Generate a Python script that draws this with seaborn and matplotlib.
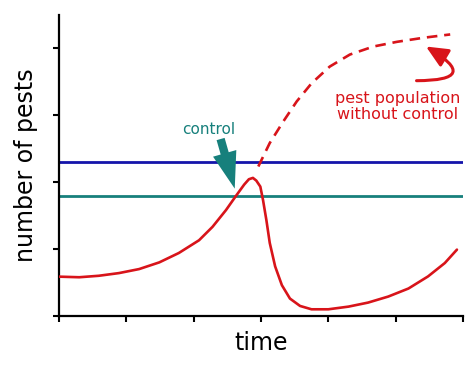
import matplotlib
matplotlib.use("Agg")
import matplotlib.pyplot as plt
import seaborn as sns
import pandas as pd

# pest population with control (red solid)
time_ctrl = [0.00, 0.30, 0.59, 0.89, 1.19, 1.49, 1.78, 2.08, 2.28, 2.48, 2.62, 2.75,
             2.82, 2.88, 2.93, 2.99, 3.03, 3.08, 3.13, 3.21, 3.31, 3.43, 3.58, 3.75,
             4.00, 4.30, 4.59, 4.89, 5.19, 5.48, 5.73, 5.91]
pests_ctrl = [0.587, 0.578, 0.60, 0.64, 0.70, 0.80, 0.94, 1.13, 1.33, 1.58, 1.78, 1.96,
              2.04, 2.06, 2.02, 1.93, 1.73, 1.43, 1.09, 0.74, 0.46, 0.26, 0.15, 0.10,
              0.10, 0.14, 0.20, 0.29, 0.41, 0.59, 0.79, 0.99]

# pest population without control (red dashed)
time_free = [2.96, 3.13, 3.33, 3.53, 3.75, 4.02, 4.32, 4.67, 5.02, 5.41, 5.81]
pests_free = [2.23, 2.58, 2.90, 3.20, 3.47, 3.72, 3.90, 4.02, 4.09, 4.15, 4.20]

# threshold levels
economic_injury_level = 2.30
action_threshold = 1.79

x_ticks = [0, 1, 2, 3, 4, 5, 6]
y_ticks = [0, 1, 2, 3, 4]

RED = "#d8141a"
BLUE = "#1414aa"
TEAL = "#17807c"

sns.set_theme(style="white")
plt.rcParams['font.family'] = ['DejaVu Sans']

fig = plt.figure(figsize=(4.74, 3.65), dpi=100)
ax = fig.add_axes([59/474, 1 - 316/365, (463 - 59)/474, (316 - 15)/365])

ax.axhline(economic_injury_level, color=BLUE, lw=2.0, zorder=2)
ax.axhline(action_threshold, color=TEAL, lw=2.0, zorder=2)

df_ctrl = pd.DataFrame({"time": time_ctrl, "pests": pests_ctrl})
df_free = pd.DataFrame({"time": time_free, "pests": pests_free})
sns.lineplot(data=df_ctrl, x="time", y="pests", sort=False, estimator=None,
             color=RED, lw=1.9, ax=ax, zorder=3)
for ln in ax.lines:
    ln.set_solid_joinstyle("round")
sns.lineplot(data=df_free, x="time", y="pests", sort=False, estimator=None,
             color=RED, lw=1.9, ax=ax, zorder=3, dashes=False)
ax.lines[-1].set_dashes((4, 2.6))

ax.set_xlim(0, 6)
ax.set_ylim(0, 4.49)
ax.set_xticks(x_ticks)
ax.set_yticks(y_ticks)
ax.set_xticklabels([])
ax.set_yticklabels([])
ax.tick_params(axis="both", direction="out", length=4.5, width=1.5, color="black",
               bottom=True, left=True)
for s in ["top", "right"]:
    ax.spines[s].set_visible(False)
for s in ["left", "bottom"]:
    ax.spines[s].set_color("black")
    ax.spines[s].set_linewidth(1.6)

ax.set_xlabel("time", fontsize=17, labelpad=3, color="black")
ax.set_ylabel("number of pests", fontsize=17, labelpad=7, color="black")

ax.text(2.23, 2.78, "control", color=TEAL, fontsize=11, ha="center", va="center")
ax.annotate("", xy=(2.61, 1.90), xytext=(2.40, 2.64),
            arrowprops=dict(arrowstyle="simple,head_length=2.2,head_width=1.45,tail_width=0.5",
                            color=TEAL, lw=0, shrinkA=0, shrinkB=0))

ax.text(5.03, 3.12, "pest population\nwithout control", color=RED, fontsize=11.5,
        ha="center", va="center", linespacing=1.1)
ax.annotate("", xy=(5.45, 4.02), xytext=(5.31, 3.51),
            arrowprops=dict(arrowstyle="-|>,head_length=1.1,head_width=0.5",
                            connectionstyle="arc3,rad=1.8",
                            color=RED, lw=2.2, shrinkA=0, shrinkB=0))

fig.savefig("out.png", dpi=100)
